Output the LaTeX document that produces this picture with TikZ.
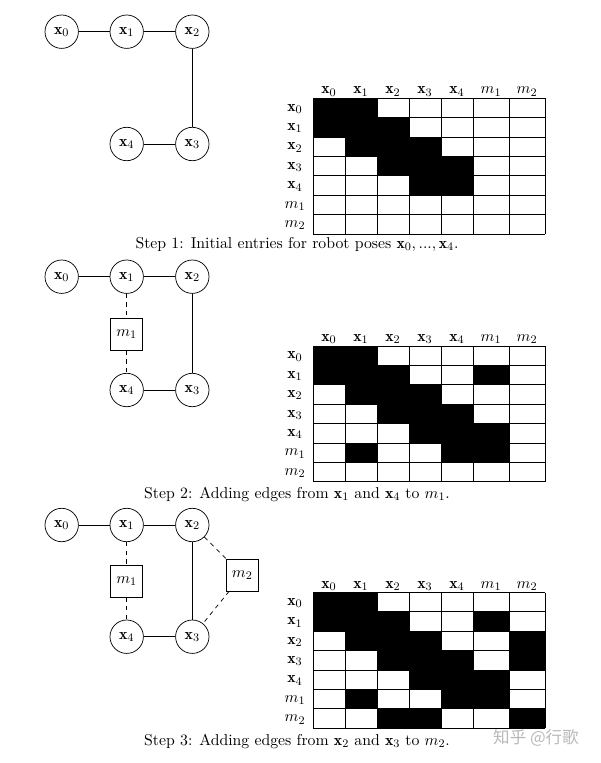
\documentclass[tikz,border=0pt]{standalone}
\usepackage{fontspec}
\newfontfamily\cjk{Noto Sans CJK SC}
\tikzset{
  pose/.style={draw, circle, minimum size=23.2pt, inner sep=0pt, line width=0.5pt},
  lmk/.style={draw, rectangle, minimum size=22.2pt, inner sep=0pt, line width=0.5pt},
  edge/.style={line width=0.5pt},
  dedge/.style={line width=0.5pt, dashed},
  gridline/.style={line width=0.6pt},
  caption/.style={anchor=base, inner sep=0pt},
}
\def\colxs{313,345,377,409,441,473,509,545}
\newcommand\cellgrid[3]{%
  % #1 prefix, #2 top y, #3 black cells r/c
  \foreach \r/\c in {#3} {
    \pgfmathsetmacro\xl{{\colxs}[\c]}
    \pgfmathsetmacro\xr{{\colxs}[\c+1]}
    \fill (\xl,{#2+\r*19.4}) rectangle (\xr,{#2+(\r+1)*19.4});
  }
  \foreach \i in {0,...,7} {
    \pgfmathsetmacro\xv{{\colxs}[\i]}
    \draw[gridline] (\xv,#2) -- (\xv,{#2+7*19.4});
    \draw[gridline] (313,{#2+\i*19.4}) -- (545,{#2+\i*19.4});
  }
  \foreach \lab [count=\i from 0] in {$\mathbf{x}_0$,$\mathbf{x}_1$,$\mathbf{x}_2$,$\mathbf{x}_3$,$\mathbf{x}_4$,$m_1$,$m_2$} {
    \pgfmathsetmacro\xl{{\colxs}[\i]}
    \pgfmathsetmacro\xr{{\colxs}[\i+1]}
    \node[anchor=base, inner sep=0pt] (#1col\i) at ({(\xl+\xr)/2},{#2-4.5}) {\lab};
    \node[anchor=mid, inner sep=0pt] (#1row\i) at (295,{#2+(\i+0.5)*19.4}) {\lab};
  }
}
\begin{document}
\begin{tikzpicture}[x=0.6945pt, y=-0.6945pt, font=\fontsize{10.95pt}{13.6pt}\selectfont]
\useasboundingbox (0,0) rectangle (600,763);

% ---------- Step 1 ----------
\node[pose] (a0) at (61.7,31.7) {$\mathbf{x}_0$};
\node[pose] (a1) at (126.7,31.7) {$\mathbf{x}_1$};
\node[pose] (a2) at (192.3,31.7) {$\mathbf{x}_2$};
\node[pose] (a3) at (192.3,144) {$\mathbf{x}_3$};
\node[pose] (a4) at (126.7,144) {$\mathbf{x}_4$};
\draw[edge] (a0) -- (a1);
\draw[edge] (a1) -- (a2);
\draw[edge] (a2) -- (a3);
\draw[edge] (a3) -- (a4);
\cellgrid{g1}{98.3}{0/0,0/1,1/0,1/1,1/2,2/1,2/2,2/3,3/2,3/3,3/4,4/3,4/4}
\node[caption] (c1) at (297,248) {Step 1: Initial entries for robot poses $\mathbf{x}_0, ..., \mathbf{x}_4$.};

% ---------- Step 2 ----------
\node[pose] (b0) at (61.7,276.7) {$\mathbf{x}_0$};
\node[pose] (b1) at (126.7,276.7) {$\mathbf{x}_1$};
\node[pose] (b2) at (192.3,276.7) {$\mathbf{x}_2$};
\node[pose] (b3) at (192.3,390) {$\mathbf{x}_3$};
\node[pose] (b4) at (126.7,390) {$\mathbf{x}_4$};
\node[lmk] (bm1) at (126.7,334.3) {$m_1$};
\draw[edge] (b0) -- (b1);
\draw[edge] (b1) -- (b2);
\draw[edge] (b2) -- (b3);
\draw[edge] (b3) -- (b4);
\draw[dedge] (b1) -- (bm1);
\draw[dedge] (bm1) -- (b4);
\cellgrid{g2}{346}{0/0,0/1,1/0,1/1,1/2,1/5,2/1,2/2,2/3,3/2,3/3,3/4,4/3,4/4,4/5,5/1,5/4,5/5}
\node[caption] (c2) at (297,498) {Step 2: Adding edges from $\mathbf{x}_1$ and $\mathbf{x}_4$ to $m_1$.};

% ---------- Step 3 ----------
\node[pose] (d0) at (61.7,525) {$\mathbf{x}_0$};
\node[pose] (d1) at (126.7,525) {$\mathbf{x}_1$};
\node[pose] (d2) at (192.3,525) {$\mathbf{x}_2$};
\node[pose] (d3) at (192.3,636.7) {$\mathbf{x}_3$};
\node[pose] (d4) at (126.7,636.7) {$\mathbf{x}_4$};
\node[lmk] (dm1) at (126.7,581) {$m_1$};
\node[lmk] (dm2) at (242.3,575) {$m_2$};
\draw[edge] (d0) -- (d1);
\draw[edge] (d1) -- (d2);
\draw[edge] (d2) -- (d3);
\draw[edge] (d3) -- (d4);
\draw[dedge] (d1) -- (dm1);
\draw[dedge] (dm1) -- (d4);
\draw[dedge] (d2) -- (dm2);
\draw[dedge] (dm2) -- (d3);
\cellgrid{g3}{592.5}{0/0,0/1,1/0,1/1,1/2,1/5,2/1,2/2,2/3,2/6,3/2,3/3,3/4,3/6,4/3,4/4,4/5,5/1,5/4,5/5,6/2,6/3,6/6}
\node[caption] (c3) at (297,745) {Step 3: Adding edges from $\mathbf{x}_2$ and $\mathbf{x}_3$ to $m_2$.};

\node[text=black!28, font=\cjk\fontsize{11.5pt}{12pt}\selectfont, inner sep=0pt] (wm) at (536,738) {知乎 @行歌};
\end{tikzpicture}
\end{document}
